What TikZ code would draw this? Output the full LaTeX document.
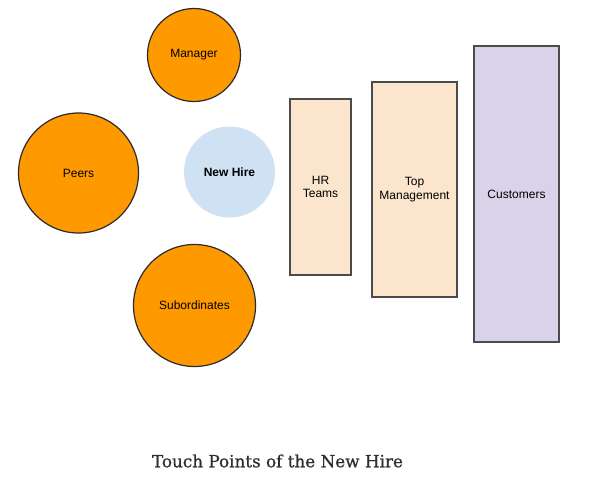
\documentclass[tikz,border=0pt]{standalone}
\usepackage{fontspec}
\setmainfont{Liberation Sans}
\newfontfamily\titlefont[FakeBold=0.8]{DejaVu Serif}
\usetikzlibrary{positioning}
\definecolor{mgrorange}{HTML}{FF9900}
\definecolor{hireblue}{HTML}{CFE2F3}
\definecolor{hrpeach}{HTML}{FCE5CD}
\definecolor{custlilac}{HTML}{D9D2E9}
\definecolor{edgegray}{HTML}{2B2B2B}
\tikzset{
	touch/.style={circle, draw=edgegray, line width=1.2pt, fill=mgrorange, inner sep=0pt, font=\fontsize{12}{13.5}\selectfont},
	group/.style={rectangle, draw=edgegray!85, line width=1.2pt, inner sep=0pt, align=center, font=\fontsize{12}{13.5}\selectfont}
}

\begin{document}
\begin{tikzpicture}[x=1pt, y=-1pt]
		%%%%% START %%%%%
		\useasboundingbox[fill=white] (0, 0) rectangle (595, 483);
		
		\node[touch, minimum size=93] (manager) at (194, 55) {Manager};
		\node[touch, minimum size=120] (peers) at (78.5, 173) {Peers};
		\node[touch, minimum size=122] (subs) at (194.5, 305.5) {Subordinates};
		\node[circle, fill=hireblue, inner sep=0pt, minimum size=91, font=\fontsize{12}{13.5}\selectfont\bfseries] (hire) at (229.5, 172) {New Hire};
		
		\node[group, fill=hrpeach, minimum width=61, minimum height=176] (hr) at (320.5, 187) {HR\\Teams};
		\node[group, fill=hrpeach, minimum width=85, minimum height=215] (topmgmt) at (414.5, 189.5) {Top\\Management};
		\node[group, fill=custlilac, minimum width=85, minimum height=296] (cust) at (516.5, 194) {Customers};
		
		\node[font=\titlefont\fontsize{16.8}{19}\selectfont, text=black!82] (title) at (277.5, 461) {Touch Points of the New Hire};
		
		%%%%% END %%%%%
	\end{tikzpicture}
\end{document}
